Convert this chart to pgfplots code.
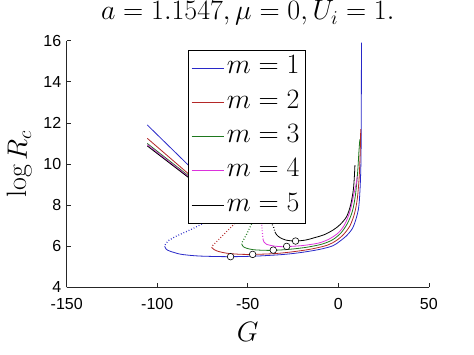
\RequirePackage{fix-cm}
\documentclass[border=0pt]{standalone}
\usepackage{fontspec}
\usepackage{pgfplots}
\pgfplotsset{compat=1.18}
\newfontfamily\arial{Liberation Sans}
\definecolor{mblue}{RGB}{40,40,200}
\definecolor{mred}{RGB}{180,40,40}
\definecolor{mgreen}{RGB}{30,120,30}
\definecolor{mmag}{RGB}{220,50,220}
\begin{document}
\begin{tikzpicture}
\useasboundingbox (-66.7pt,-67.7pt) rectangle (407.3pt,287.3pt);
\begin{axis}[
  scale only axis, width=362.1pt, height=246.6pt,
  xmin=-150, xmax=50, ymin=4, ymax=16,
  axis lines*=left,
  axis line style={black!85, line width=0.6pt},
  tick style={black!85, line width=0.6pt},
  tick align=inside,
  major tick length=4pt,
  xtick={-150,-100,-50,0,50}, xticklabels={-150,-100,-50,0,50},
  ytick={4,6,8,10,12,14,16}, yticklabels={4,6,8,10,12,14,16},
  ticklabel style={font=\arial\fontsize{16}{19}\selectfont},
  xticklabel style={yshift=-7pt},
  yticklabel style={xshift=-2pt},
  xlabel={$G$}, ylabel={$\log R_c$},
  label style={font=\fontsize{28}{34}\selectfont},
  xlabel style={at={(axis description cs:0.5,0)}, anchor=base, yshift=-54.7pt},
  ylabel style={at={(axis description cs:-0.110,0.5)}, anchor=base},
  title={$a=1.1547,\mu=0,U_i=1.$},
  title style={font=\fontsize{28}{34}\selectfont, at={(axis description cs:0.5,1)}, anchor=base, yshift=14.7pt},
  legend style={at={(axis cs:-82.9,15.55)}, anchor=north west, draw=black, line width=0.6pt, fill=white,
    font=\fontsize{28}{34}\selectfont, inner xsep=2.7pt, inner ysep=0.6pt,
    nodes={inner xsep=3pt, inner ysep=4.15pt, text height=19pt, text depth=7pt}},
  legend cell align=left,
  legend image code/.code={\draw[#1, line width=0.8pt] (0pt,0pt) -- (32pt,0pt);},
  every axis plot/.append style={line width=0.8pt},
]
% upper-left solid branches (legend)
\addplot[mblue, no marks] coordinates {(-105.5,11.90) (-78,9.53)};
\addlegendentry{$m=1$}
\addplot[mred, no marks] coordinates {(-105.5,11.25) (-78,9.16)};
\addlegendentry{$m=2$}
\addplot[mgreen, no marks] coordinates {(-105.5,11.00) (-78,9.10)};
\addlegendentry{$m=3$}
\addplot[mmag, no marks] coordinates {(-105.5,10.94) (-78,9.06)};
\addlegendentry{$m=4$}
\addplot[black, no marks] coordinates {(-105.5,10.88) (-78,9.02)};
\addlegendentry{$m=5$}
% dotted branches
\addplot[mblue, dotted, line width=1.2pt, forget plot] coordinates {(-70,7.35) (-74.6,7.11) (-81.9,6.79) (-89.3,6.50) (-93.9,6.27) (-95.7,6.06) (-95.9,6.0)};
\addplot[mred, dotted, line width=1.2pt, forget plot] coordinates {(-53.8,7.4) (-57.1,7.11) (-63.5,6.55) (-70,5.97)};
\addplot[mgreen, dotted, line width=1.2pt, forget plot] coordinates {(-45.8,7.45) (-47.8,7.1) (-50.5,6.6) (-53.4,6.14)};
\addplot[mmag, dotted, line width=1.2pt, forget plot] coordinates {(-42.5,7.45) (-42.3,7.08) (-42,6.7) (-41.6,6.35)};
\addplot[black, dotted, line width=1.2pt, forget plot] coordinates {(-37.3,7.45) (-36.8,7.11) (-35.6,6.9) (-35,6.7)};
% lower solid branches
\addplot[mblue, smooth, no marks, forget plot] coordinates {(-95.9,6.0) (-95,5.85) (-93,5.76) (-89,5.65) (-85.6,5.59) (-76.4,5.52) (-60,5.49) (-45,5.52) (-30,5.6) (-20,5.7) (-10,5.85) (-3,6.02) (1,6.25) (5,6.55) (8.3,6.95) (11.05,7.76) (12,8.73) (12.5,10) (12.7,12) (12.8,15.9)};
\addplot[mred, smooth, no marks, forget plot] coordinates {(-70,5.95) (-68.5,5.83) (-66,5.74) (-61.7,5.66) (-55,5.61) (-47.3,5.6) (-35,5.64) (-25,5.73) (-15,5.86) (-6,6.05) (-1,6.28) (3,6.58) (6.5,7.0) (9,7.6) (10.5,8.3) (11.5,9.3) (12.1,10.5) (12.4,11.7)};
\addplot[mgreen, smooth, no marks, forget plot] coordinates {(-53.4,6.12) (-52.5,5.98) (-50.6,5.9) (-47,5.83) (-41,5.8) (-35.9,5.8) (-28,5.84) (-18,5.94) (-9,6.1) (-3,6.32) (1.5,6.65) (5,7.1) (7.8,7.7) (9.5,8.5) (10.7,9.6) (11.4,10.6) (11.9,11.2)};
\addplot[mmag, smooth, no marks, forget plot] coordinates {(-41.6,6.35) (-41,6.2) (-39.6,6.09) (-35,6.0) (-32.2,5.98) (-28.5,5.98) (-20,6.03) (-11,6.15) (-5,6.35) (0,6.65) (3.5,7.05) (6.5,7.7) (8.5,8.5) (9.8,9.0) (10.5,9.4)};
\addplot[black, smooth, no marks, forget plot] coordinates {(-35,6.7) (-34,6.55) (-32.2,6.42) (-29,6.3) (-23.9,6.25) (-18,6.3) (-12.9,6.42) (-8,6.55) (-2.8,6.79) (1,7.05) (4.6,7.44) (6.8,8.0) (8.3,8.73) (8.9,9.4) (9.2,9.95)};
% circles
\addplot[only marks, mark=*, mark size=3.3pt, mark options={fill=white, draw=black, line width=0.6pt}, forget plot] coordinates {(-59.5,5.49) (-47.3,5.6) (-35.9,5.81) (-28.5,5.99) (-23.6,6.25)};
\end{axis}
\end{tikzpicture}
\end{document}
